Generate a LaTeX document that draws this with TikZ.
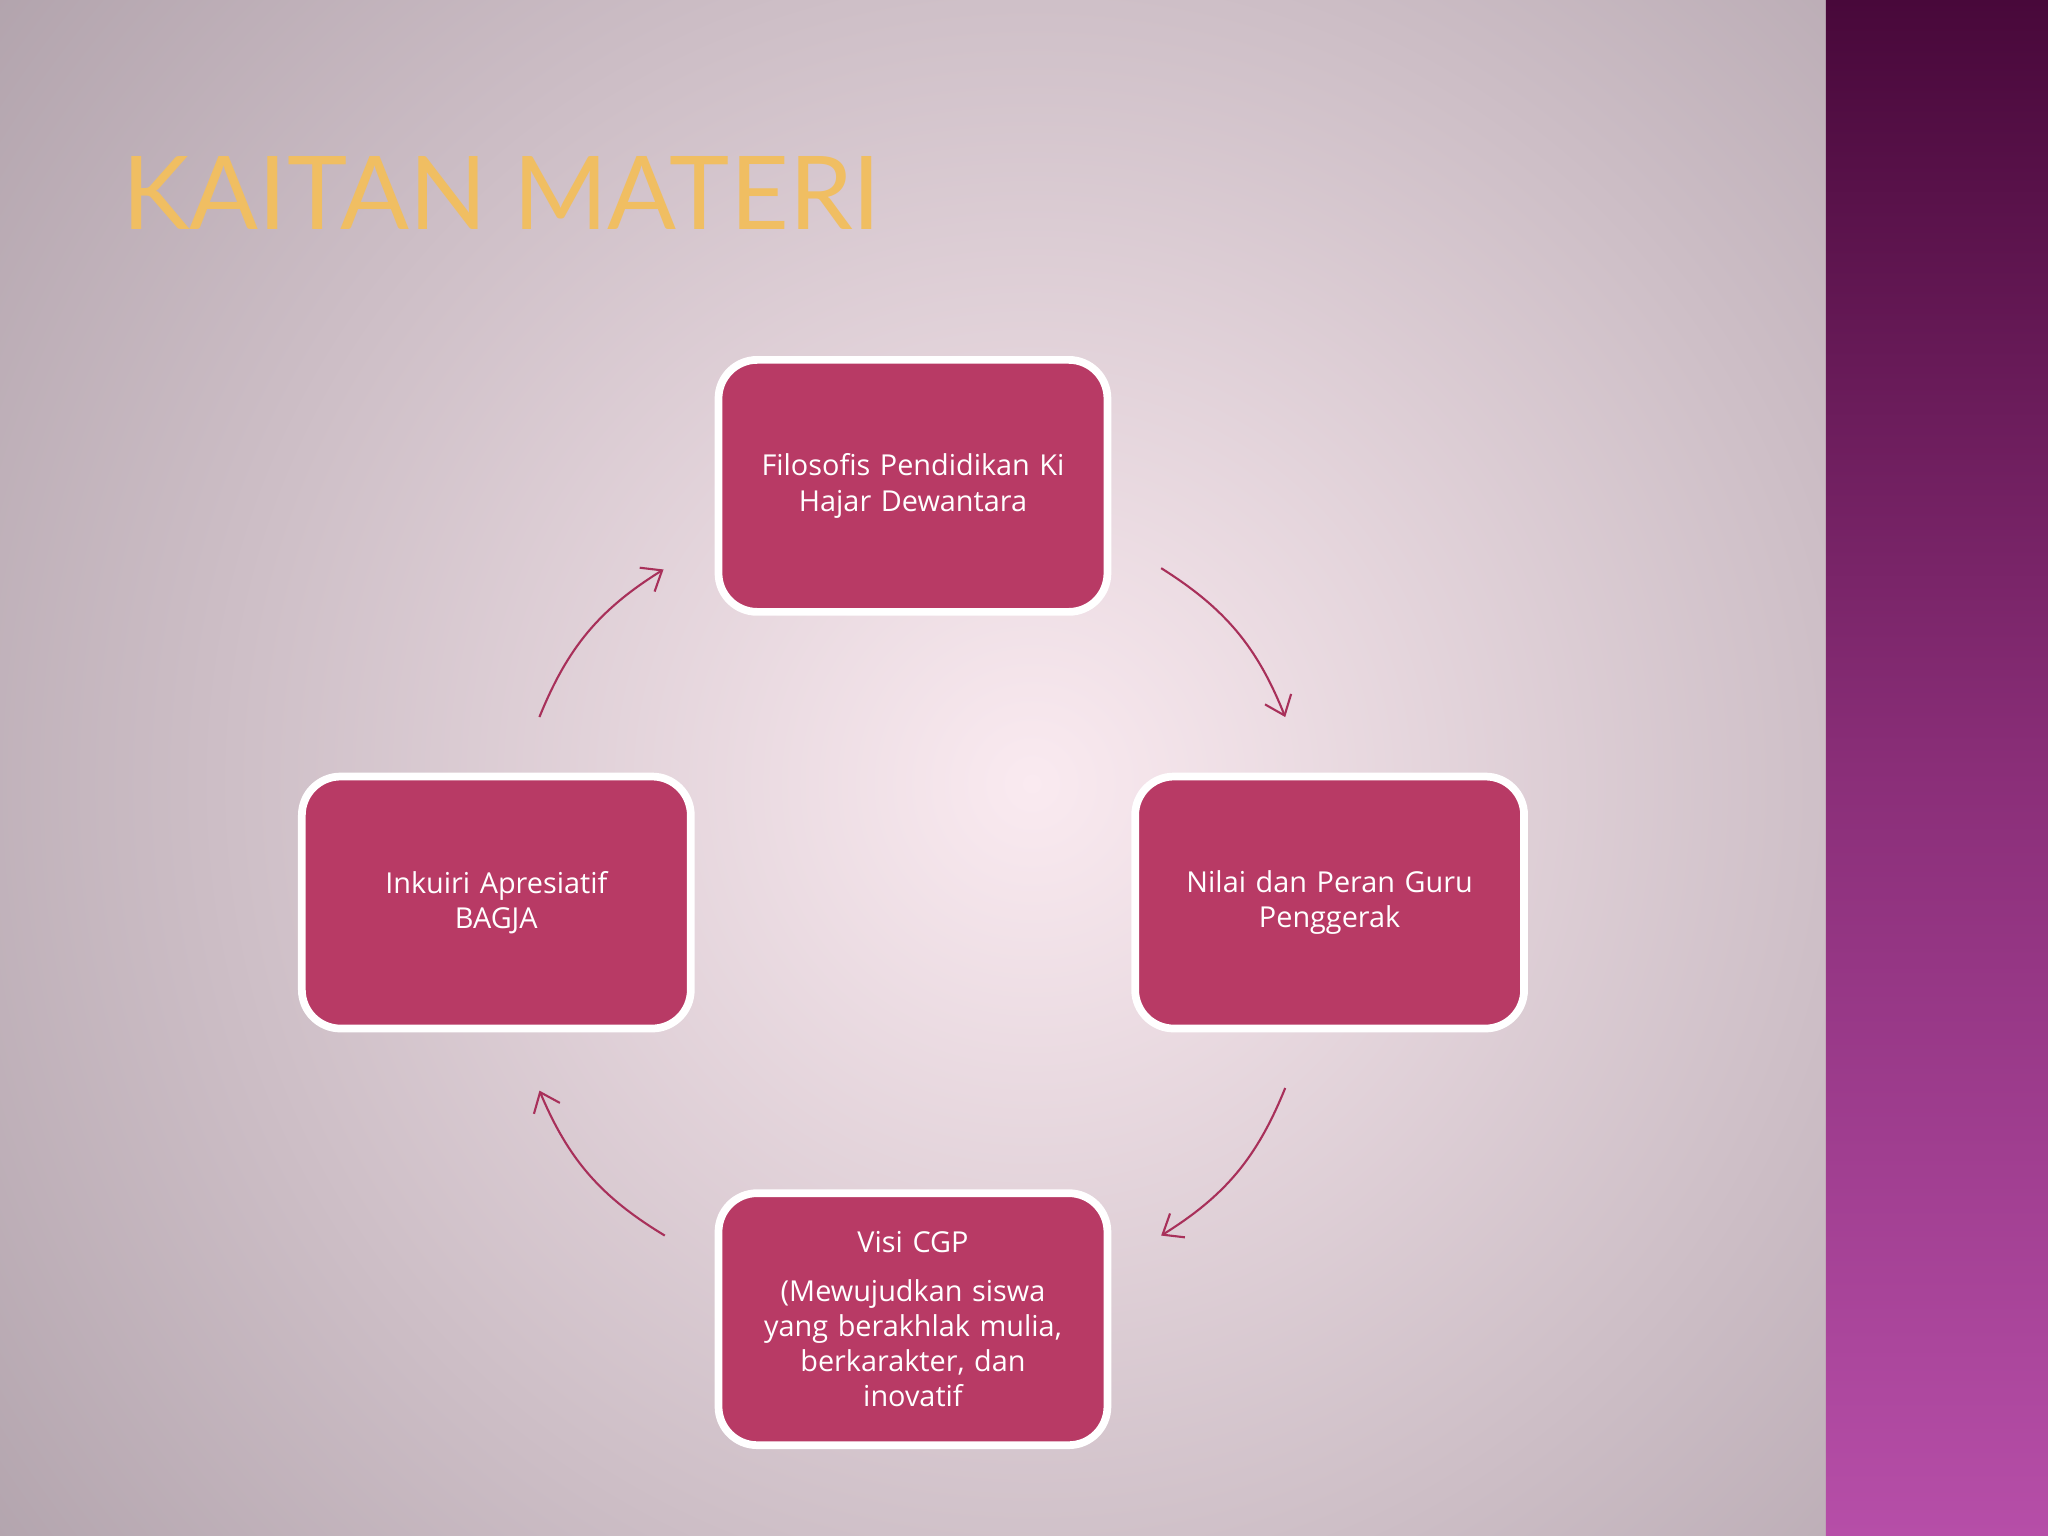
\documentclass[tikz,border=0pt]{standalone}
\usepackage{fontspec}
\setmainfont{Open Sans}
\newfontfamily\titlefont{Lato}
\usetikzlibrary{arrows.meta}
\definecolor{boxc}{HTML}{B83A65}
\definecolor{arrc}{HTML}{A8305A}
\definecolor{gold}{HTML}{F0BE62}
\definecolor{bgout}{RGB}{160,146,156}
\definecolor{bgin}{RGB}{250,234,240}
\definecolor{bandtop}{RGB}{72,8,58}
\definecolor{bandmid}{RGB}{138,46,120}
\definecolor{bandbot}{RGB}{182,78,168}
\tikzset{
  box/.style={draw=white,line width=2.2pt,fill=boxc,rounded corners=11pt,minimum width=110pt,minimum height=71.7pt,text=white,align=center,text width=104pt,font=\fontsize{8.2}{10}\selectfont},
  arr/.style={draw=arrc,line width=0.6pt,-{Straight Barb[length=5pt,width=8pt]}}
}
\begin{document}
\begin{tikzpicture}[x=0.013061cm,y=-0.013061cm]
\useasboundingbox (0,0) rectangle (1568,1176);
\begin{scope}
\clip (0,0) rectangle (1398,1176);
\fill[bgout] (0,0) rectangle (1398,1176);
\shade[inner color=bgin,outer color=bgout] (790,600) circle (1250);
\end{scope}
\shade[top color=bandtop,bottom color=bandbot,middle color=bandmid] (1398,0) rectangle (1568,1176);
\node[anchor=west,text=gold,font=\titlefont\fontsize{29}{29}\selectfont] (title) at (84,148) {KAITAN MATERI};
\node[box] (top) at (699,372) {Filosofis Pendidikan Ki\\Hajar Dewantara};
\node[box] (right) at (1018,691) {Nilai dan Peran Guru\\Penggerak};
\node[box] (left) at (380,691) {Inkuiri Apresiatif\\BAGJA};
\node[box] (bottom) at (699,1010) {Visi CGP\\[4pt](Mewujudkan siswa\\yang berakhlak mulia,\\berkarakter, dan\\inovatif};
\coordinate (a1) at (413,549); \coordinate (a2) at (508,436);
\coordinate (b1) at (889,435); \coordinate (b2) at (984,549);
\coordinate (c1) at (984,833); \coordinate (c2) at (889,946);
\coordinate (d1) at (509,946); \coordinate (d2) at (413,835);
\draw[arr] (a1) to[bend left=18] (a2);
\draw[arr] (b1) to[bend left=18] (b2);
\draw[arr] (c1) to[bend left=18] (c2);
\draw[arr] (d1) to[bend left=18] (d2);
\end{tikzpicture}
\end{document}
